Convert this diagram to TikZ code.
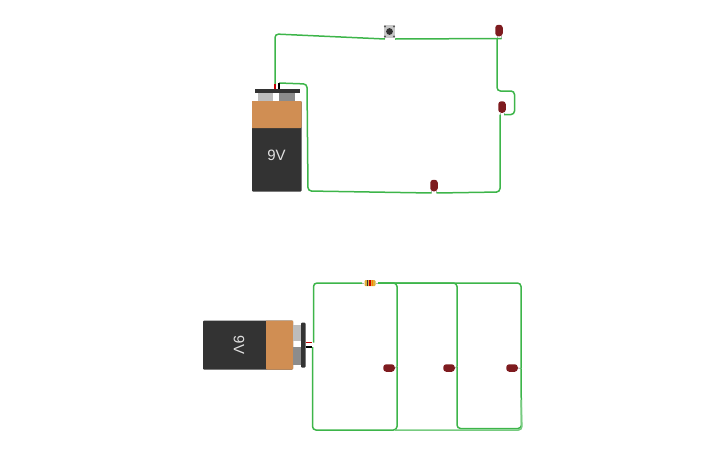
\documentclass[tikz,border=0pt]{standalone}
\usepackage{fontspec}
\setsansfont{Liberation Sans}
\usetikzlibrary{calc}
\definecolor{wiregreen}{HTML}{3DB54A}
\definecolor{ledred}{HTML}{7E1B1F}
\definecolor{batdark}{HTML}{333333}
\definecolor{batorange}{HTML}{D08E53}
\definecolor{termlight}{HTML}{BDBDBD}
\definecolor{termdark}{HTML}{8C8C8C}
\tikzset{
    wire/.style={draw=wiregreen, line width=1.5pt, rounded corners=3.5pt},
    leadpin/.style={draw=black!30, line width=1pt},
    ledupbody/.style={fill=ledred, inner sep=0pt, minimum width=7.5pt, minimum height=11.5pt, rounded corners=3pt},
    ledleftbody/.style={fill=ledred, inner sep=0pt, minimum width=11.5pt, minimum height=7.5pt, rounded corners=3pt},
    batlabel/.style={text=white!88!black, font=\sffamily\fontsize{15}{15}\selectfont}
}
\begin{document}
\begin{tikzpicture}[x=1pt, y=-1pt]
    \useasboundingbox (0,0) rectangle (725,453);
    % top battery
    \fill[batdark, rounded corners=1pt] (252,101) rectangle (301.5,191.5);
    \fill[batorange, rounded corners=1pt] (252,101) -- (301.5,101) -- (301.5,128) [sharp corners] -- (252,128) -- cycle;
    \fill[termlight] (257.5,93) rectangle (273,101);
    \fill[termdark] (278.5,93) rectangle (295,101);
    \fill[batdark] (255,88.5) rectangle (299.5,92.5);
    \node[batlabel] (labeltop) at (276.5,155) {9V};
    % button
    \node[fill=black!22, inner sep=0pt, minimum width=11pt, minimum height=13pt] (btn) at (389.5,31.5) {};
    \fill[black!80] (btn.center) circle (3.4pt);
    \foreach \px in {-4.5,4.5} \foreach \py in {-5,5}
        \fill[black!65] ($(btn.center)+(\px,\py)$) circle (1.1pt);
    \coordinate (batpos) at (275,85);
    \coordinate (batneg) at (279,83);
    \coordinate (btnl) at (385,39);
    \coordinate (btnr) at (395,39);
    % series leds
    \node[ledupbody] (leda) at (499,30.5) {};
    \node[ledupbody] (ledb) at (502,107) {};
    \node[ledupbody] (ledc) at (434,185.5) {};
    \coordinate (ledal) at (497,38.5);
    \coordinate (ledar) at (501.5,38.5);
    \coordinate (ledbl) at (500,114.5);
    \coordinate (ledbr) at (504,114.5);
    \coordinate (ledcl) at (431.5,193);
    \coordinate (ledcr) at (436.5,193);
    \draw[leadpin] (leda.south -| ledal) -- (ledal) (leda.south -| ledar) -- (ledar);
    \draw[leadpin] (ledb.south -| ledbl) -- (ledbl) (ledb.south -| ledbr) -- (ledbr);
    \draw[leadpin] (ledc.south -| ledcl) -- (ledcl) (ledc.south -| ledcr) -- (ledcr);
    % top wires
    \draw[wire] (batpos) -- (275,34) -- (btnl);
    \draw[wire] (btnr) -- (ledar);
    \draw[wire] (ledal) -- (497,91) -- (514.5,91) -- (514.5,114.5) -- (ledbr);
    \draw[wire] (ledbl) -- (500,192) -- (ledcr);
    \draw[wire] (ledcl) -- (308,191) -- (307,84) -- (batneg);
    \draw[red!75!black, line width=1.2pt] (275,88.5) -- (275,84);
    \draw[black, line width=1.2pt] (279,88.5) -- (279,83);
    % bottom battery
    \fill[batdark, rounded corners=1pt] (203,320.5) rectangle (293,369.5);
    \fill[batorange, rounded corners=1pt] (293,320.5) -- (293,369.5) -- (266,369.5) [sharp corners] -- (266,320.5) -- cycle;
    \fill[termlight] (293,325) rectangle (300.5,341);
    \fill[termdark] (293,347) rectangle (300.5,365);
    \fill[batdark, rounded corners=1pt] (301,322.5) rectangle (305.5,367.5);
    \node[batlabel, rotate=-90] (labelbot) at (239,345) {9V};
    \coordinate (botpos) at (313.5,342.5);
    \coordinate (botneg) at (312.5,347);
    % resistor
    \node[fill=batorange!70!yellow, inner sep=0pt, minimum width=11pt, minimum height=6pt, rounded corners=1pt] (res) at (370,283) {};
    \draw[leadpin] (362,283) -- (res.west) (res.east) -- (378,283);
    \fill[black!80] (366.5,280) rectangle (368,286);
    \fill[red!80!black] (369.2,280) rectangle (370.7,286);
    \fill[orange] (371.5,280) rectangle (372.6,286);
    % parallel leds
    \node[ledleftbody] (ledd) at (389,368) {};
    \node[ledleftbody] (lede) at (449,368) {};
    \node[ledleftbody] (ledf) at (512,368) {};
    \coordinate (leddt) at (397,366.5);
    \coordinate (ledet) at (457,366.5);
    \coordinate (ledft) at (521,368.5);
    \draw[leadpin] (ledd.east) -- (leddt);
    \draw[leadpin] (lede.east) -- (ledet);
    \draw[leadpin] (ledf.east) -- (ledft);
    % bottom wires
    \draw[wire] (botpos) -- (313.5,283) -- (362,283);
    \draw[wire] (378,283) -- (397,283) -- (leddt);
    \draw[wire] (378,283) -- (457,283) -- (ledet);
    \draw[wire] (378,283) -- (521,283) -- (ledft);
    \draw[wire] (leddt) -- (397,430) -- (312.5,430) -- (botneg);
    \draw[wire] (ledet) -- (457,428.5) -- (521.5,428.5) -- (ledft);
    \draw[wire, wiregreen!70] (395,430) -- (522,430) -- (521,400);
    \draw[red!75!black, line width=1.2pt] (305.5,342.5) -- (312,342.5);
    \draw[black, line width=1.2pt] (305.5,347) -- (312,347);
\end{tikzpicture}
\end{document}
